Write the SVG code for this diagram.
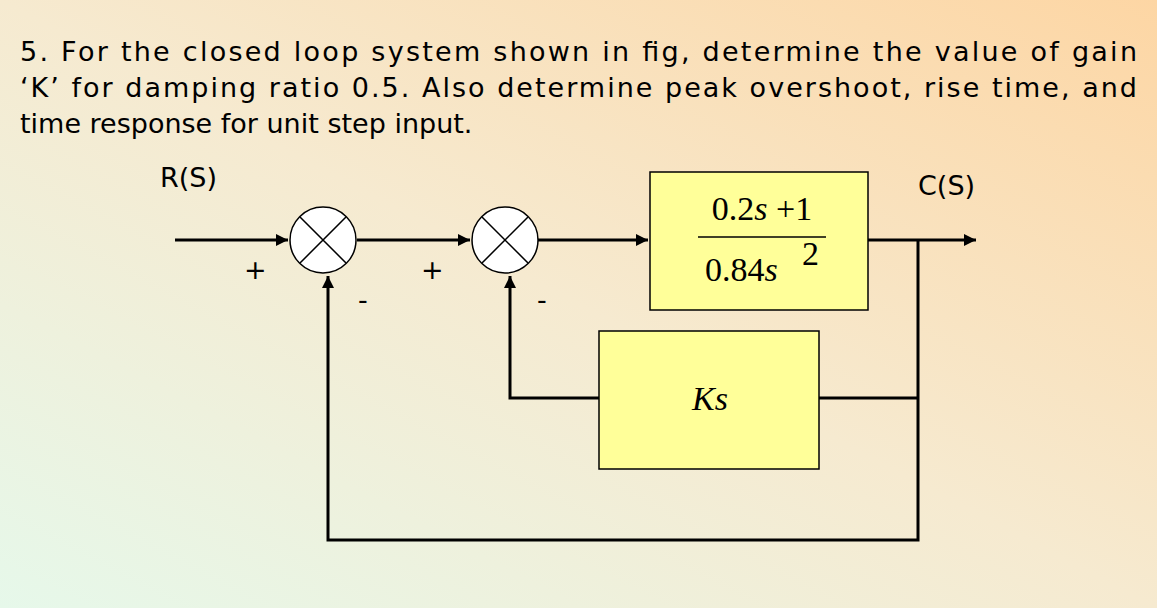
<svg xmlns="http://www.w3.org/2000/svg" width="1157" height="608" viewBox="0 0 1157 608">
<defs>
<linearGradient id="bg" x1="0" y1="1" x2="1" y2="0">
<stop offset="0" stop-color="#e6f8ea"/>
<stop offset="0.5" stop-color="#f6ead0"/>
<stop offset="1" stop-color="#fdd6a4"/>
</linearGradient>
<marker id="ar" viewBox="0 0 10 10" refX="10" refY="5" markerWidth="5" markerHeight="4" orient="auto" markerUnits="strokeWidth">
<path d="M0,0 L10,5 L0,10 z" fill="#000"/>
</marker>
<style>
.t{font-family:"DejaVu Sans",Verdana,sans-serif;font-size:27px;fill:#000}
.m{font-family:"Liberation Serif","Times New Roman",serif;font-size:34px;fill:#000}
.w{stroke:#000;stroke-width:3;fill:none}
.b{fill:#ffff99;stroke:#000;stroke-width:1.5}
.s{fill:#fff;stroke:#000;stroke-width:1.5}
</style>
</defs>
<rect width="1157" height="608" fill="url(#bg)"/>
<text class="t" x="20" y="61" textLength="1117" lengthAdjust="spacing">5. For the closed loop system shown in fig, determine the value of gain</text>
<text class="t" x="20" y="97" textLength="1117" lengthAdjust="spacing">‘K’ for damping ratio 0.5. Also determine peak overshoot, rise time, and</text>
<text class="t" x="20" y="133">time response for unit step input.</text>
<text class="t" x="160" y="187">R(S)</text>
<text class="t" x="918" y="195">C(S)</text>
<g id="connectors">
<path class="w" d="M175,240 H288" marker-end="url(#ar)"/>
<path class="w" d="M357,240 H470" marker-end="url(#ar)"/>
<path class="w" d="M538,240 H648" marker-end="url(#ar)"/>
<path class="w" d="M868,240 H976" marker-end="url(#ar)"/>
<path class="w" d="M918,240 V540 H328 V276" marker-end="url(#ar)"/>
<path class="w" d="M918,398 H819"/>
<path class="w" d="M599,398 H510 V276" marker-end="url(#ar)"/>
</g>
<g id="sum1">
<circle class="s" cx="323" cy="240" r="33"/>
<path d="M300,217 L346,263 M346,217 L300,263" stroke="#000" stroke-width="1.5"/>
<text class="t" x="244" y="279">+</text>
<text class="t" x="358" y="309">-</text>
</g>
<g id="sum2">
<circle class="s" cx="505" cy="240" r="33"/>
<path d="M482,217 L528,263 M528,217 L482,263" stroke="#000" stroke-width="1.5"/>
<text class="t" x="421" y="279">+</text>
<text class="t" x="537" y="309">-</text>
</g>
<g id="plant">
<rect class="b" x="650" y="172" width="218" height="138"/>
<text class="m" x="762" y="220" text-anchor="middle">0.2<tspan font-style="italic">s</tspan> +1</text>
<line x1="698" y1="237" x2="826" y2="237" stroke="#000" stroke-width="1.5"/>
<text class="m" x="705" y="281">0.84<tspan font-style="italic">s</tspan></text>
<text class="m" x="802" y="265" font-size="22">2</text>
</g>
<g id="feedback">
<rect class="b" x="599" y="331" width="220" height="138"/>
<text class="m" x="710" y="410" text-anchor="middle" font-style="italic">Ks</text>
</g>
</svg>
